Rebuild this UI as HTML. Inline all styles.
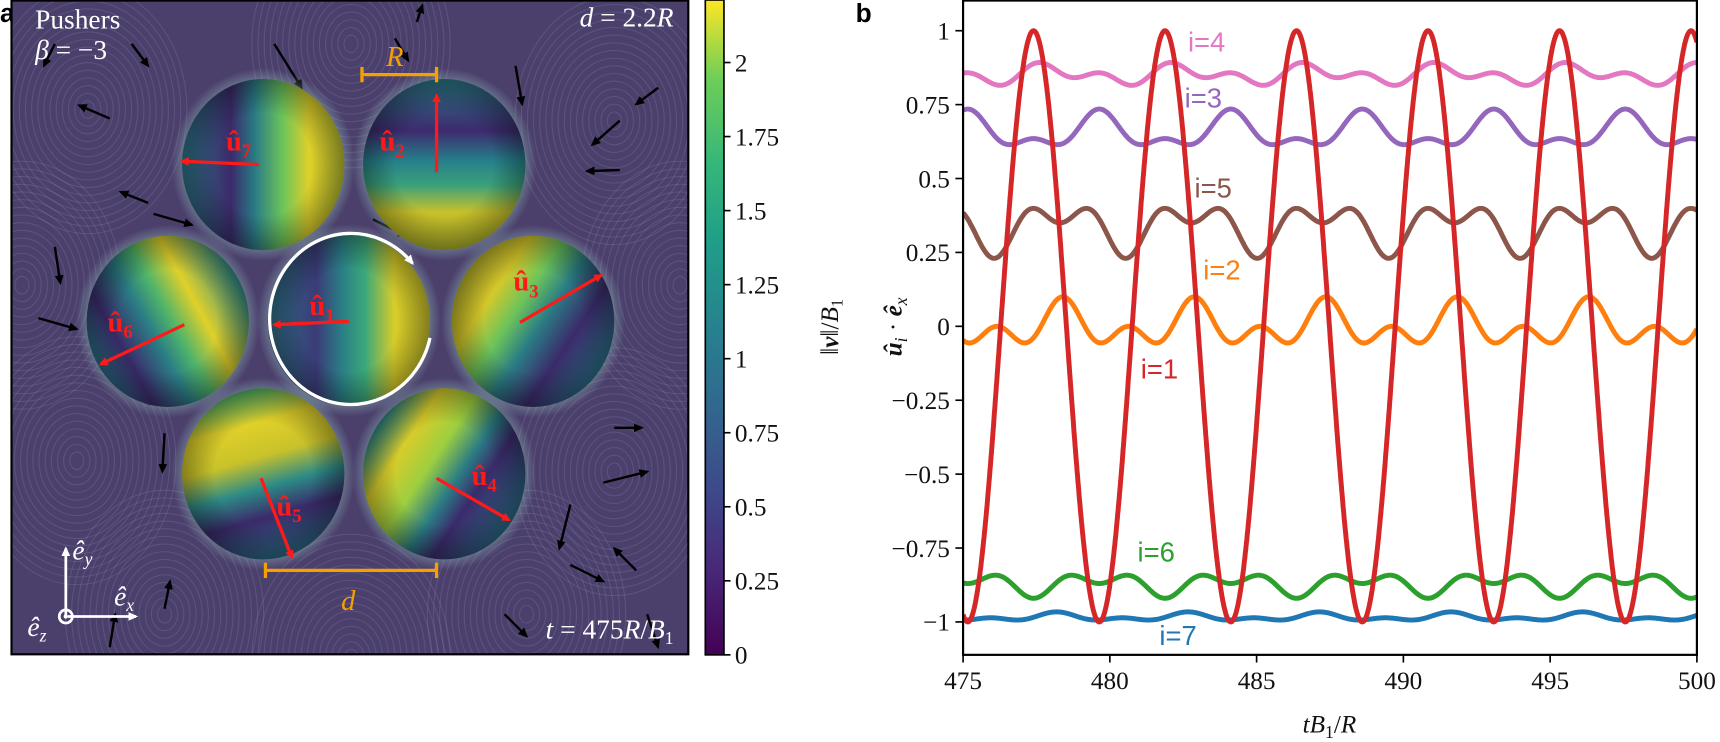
<!DOCTYPE html>
<html><head><meta charset="utf-8"><style>
html,body{margin:0;padding:0;background:#fff;width:1720px;height:742px;overflow:hidden}
svg{display:block}
.tk{font-family:"Liberation Serif",serif;font-size:23px;fill:#111}
.sl{font-family:"Liberation Sans","DejaVu Sans",sans-serif;font-size:25px}
.wt{font-family:"Liberation Serif",serif;font-size:25px;fill:#fff}
.rl{font-family:"Liberation Serif",serif;font-size:26px;fill:#ff1a1a;font-weight:bold}
</style></head><body>
<svg id="s" width="1720" height="742" viewBox="0 0 1720 742" xmlns="http://www.w3.org/2000/svg">
<defs>
<linearGradient id="vir" x1="0" y1="1" x2="0" y2="0">
<stop offset="0" stop-color="#440154"/><stop offset="0.13" stop-color="#482878"/><stop offset="0.25" stop-color="#3e4989"/><stop offset="0.38" stop-color="#31688e"/><stop offset="0.5" stop-color="#26828e"/><stop offset="0.63" stop-color="#1f9e89"/><stop offset="0.75" stop-color="#35b779"/><stop offset="0.88" stop-color="#6ece58"/><stop offset="1" stop-color="#fde725"/>
</linearGradient>
<radialGradient id="shade" cx="0.5" cy="0.5" r="0.5">
<stop offset="0.6" stop-color="#000" stop-opacity="0"/><stop offset="1" stop-color="#000" stop-opacity="0.35"/>
</radialGradient>
<radialGradient id="glow" cx="0.5" cy="0.5" r="0.5">
<stop offset="0.8" stop-color="#9fd8c8" stop-opacity="0.5"/><stop offset="1" stop-color="#9fd8c8" stop-opacity="0"/>
</radialGradient>
<linearGradient id="g1" x1="0" y1="0" x2="1" y2="0">
<stop offset="0" stop-color="#2c6f84"/><stop offset="0.3" stop-color="#3b3b78"/><stop offset="0.45" stop-color="#2a7c85"/><stop offset="0.6" stop-color="#3aa87a"/><stop offset="0.78" stop-color="#d8cc2a"/><stop offset="1" stop-color="#c9c22a"/>
</linearGradient>
<linearGradient id="g7" x1="0" y1="0" x2="1" y2="0">
<stop offset="0" stop-color="#2e7688"/><stop offset="0.3" stop-color="#3b2a6a"/><stop offset="0.45" stop-color="#2a7c85"/><stop offset="0.62" stop-color="#6cc45a"/><stop offset="0.78" stop-color="#ddd02a"/><stop offset="1" stop-color="#b8bc30"/>
</linearGradient>
<linearGradient id="g2" x1="0" y1="0" x2="0" y2="1">
<stop offset="0" stop-color="#2b7a88"/><stop offset="0.3" stop-color="#3d2a6e"/><stop offset="0.48" stop-color="#26808a"/><stop offset="0.62" stop-color="#3aa07a"/><stop offset="0.78" stop-color="#c9c12a"/><stop offset="1" stop-color="#a8ad2a"/>
</linearGradient>
<linearGradient id="g6" x1="0" y1="0" x2="1" y2="0" gradientTransform="rotate(-30 .5 .5)">
<stop offset="0" stop-color="#2a6f86"/><stop offset="0.18" stop-color="#3b2a6a"/><stop offset="0.38" stop-color="#2a7c85"/><stop offset="0.52" stop-color="#4fb46a"/><stop offset="0.7" stop-color="#e0d02a"/><stop offset="1" stop-color="#2e8a86"/>
</linearGradient>
<linearGradient id="g3" x1="1" y1="0" x2="0" y2="0" gradientTransform="rotate(35 .5 .5)">
<stop offset="0" stop-color="#2a6f86"/><stop offset="0.25" stop-color="#3b2a6a"/><stop offset="0.45" stop-color="#2a7c85"/><stop offset="0.62" stop-color="#6cc45a"/><stop offset="0.8" stop-color="#d6c82a"/><stop offset="1" stop-color="#b8b22a"/>
</linearGradient>
<linearGradient id="g5" x1="0" y1="0" x2="0" y2="1" gradientTransform="rotate(-15 .5 .5)">
<stop offset="0" stop-color="#4fb46a"/><stop offset="0.2" stop-color="#e0d02a"/><stop offset="0.4" stop-color="#c8c22a"/><stop offset="0.58" stop-color="#2c8a86"/><stop offset="0.75" stop-color="#3b2a6a"/><stop offset="1" stop-color="#2a6a84"/>
</linearGradient>
<linearGradient id="g4" x1="0" y1="0" x2="1" y2="0" gradientTransform="rotate(35 .5 .5)">
<stop offset="0" stop-color="#2c8a86"/><stop offset="0.2" stop-color="#d8cc2a"/><stop offset="0.4" stop-color="#9ccf40"/><stop offset="0.58" stop-color="#2a7c85"/><stop offset="0.72" stop-color="#3b2a6a"/><stop offset="1" stop-color="#2a6a84"/>
</linearGradient>
<marker id="ar" markerWidth="8" markerHeight="8" refX="6" refY="4" orient="auto" markerUnits="userSpaceOnUse"><path d="M0,0 L8,4 L0,8 z" fill="#ff1a1a"/></marker>
<marker id="ak" markerWidth="9" markerHeight="8" refX="7" refY="4" orient="auto" markerUnits="userSpaceOnUse"><path d="M0,0 L9,4 L0,8 z" fill="#000"/></marker>
<marker id="aw" markerWidth="9" markerHeight="8" refX="7" refY="4" orient="auto" markerUnits="userSpaceOnUse"><path d="M0,0 L9,4 L0,8 z" fill="#fff"/></marker>
<clipPath id="pa"><rect x="11" y="0" width="616" height="596"/></clipPath>
<clipPath id="pb"><rect x="878" y="0" width="669" height="597"/></clipPath>
</defs>
<g transform="scale(1.0969)">
<text x="0" y="20" font-family="Liberation Sans,sans-serif" font-weight="bold" font-size="24" fill="#000">a</text>
<g clip-path="url(#pa)">
<rect x="11" y="0" width="616" height="596" fill="#4b3f6c"/>
<g id="stream" stroke="#8f8ab0" stroke-opacity="0.25" fill="none" stroke-width="1"></g>
<g id="blk" stroke="#000" stroke-width="2.2"></g>
<g>
<ellipse cx="318" cy="292" rx="84" ry="88" fill="url(#glow)"/>
<ellipse cx="240" cy="150" rx="84" ry="88" fill="url(#glow)"/>
<ellipse cx="405" cy="150" rx="84" ry="88" fill="url(#glow)"/>
<ellipse cx="153" cy="293" rx="84" ry="88" fill="url(#glow)"/>
<ellipse cx="486" cy="293" rx="84" ry="88" fill="url(#glow)"/>
<ellipse cx="240" cy="432" rx="84" ry="88" fill="url(#glow)"/>
<ellipse cx="405" cy="432" rx="84" ry="88" fill="url(#glow)"/>
<ellipse cx="318" cy="292" rx="74" ry="78" fill="url(#g1)"/>
<ellipse cx="240" cy="150" rx="74" ry="78" fill="url(#g7)"/>
<ellipse cx="405" cy="150" rx="74" ry="78" fill="url(#g2)"/>
<ellipse cx="153" cy="293" rx="74" ry="78" fill="url(#g6)"/>
<ellipse cx="486" cy="293" rx="74" ry="78" fill="url(#g3)"/>
<ellipse cx="240" cy="432" rx="74" ry="78" fill="url(#g5)"/>
<ellipse cx="405" cy="432" rx="74" ry="78" fill="url(#g4)"/>
<g fill="url(#shade)">
<ellipse cx="318" cy="292" rx="74" ry="78"/><ellipse cx="240" cy="150" rx="74" ry="78"/><ellipse cx="405" cy="150" rx="74" ry="78"/><ellipse cx="153" cy="293" rx="74" ry="78"/><ellipse cx="486" cy="293" rx="74" ry="78"/><ellipse cx="240" cy="432" rx="74" ry="78"/><ellipse cx="405" cy="432" rx="74" ry="78"/>
</g>
</g>
<path d="M392,308 A74,78 0 1 1 376,240" fill="none" stroke="#fff" stroke-width="3" marker-end="url(#aw)"/>
<g stroke="#ff1a1a" stroke-width="3" marker-end="url(#ar)">
<line x1="318" y1="293" x2="250" y2="296"/>
<line x1="398" y1="157" x2="398" y2="87"/>
<line x1="236" y1="150" x2="166" y2="147"/>
<line x1="168" y1="296" x2="92" y2="332"/>
<line x1="474" y1="294" x2="548" y2="251"/>
<line x1="238" y1="436" x2="266" y2="508"/>
<line x1="398" y1="436" x2="464" y2="474"/>
</g>
<g class="rl">
<text x="282" y="287">û<tspan font-size="17" dy="6">1</tspan></text>
<text x="346" y="137">û<tspan font-size="17" dy="6">2</tspan></text>
<text x="468" y="265">û<tspan font-size="17" dy="6">3</tspan></text>
<text x="430" y="442">û<tspan font-size="17" dy="6">4</tspan></text>
<text x="252" y="470">û<tspan font-size="17" dy="6">5</tspan></text>
<text x="98" y="302">û<tspan font-size="17" dy="6">6</tspan></text>
<text x="206" y="137">û<tspan font-size="17" dy="6">7</tspan></text>
</g>
<g stroke="#f5a000" stroke-width="3">
<line x1="330" y1="68" x2="398" y2="68"/><line x1="330" y1="61" x2="330" y2="75"/><line x1="398" y1="61" x2="398" y2="75"/>
<line x1="242" y1="520" x2="398" y2="520"/><line x1="242" y1="513" x2="242" y2="527"/><line x1="398" y1="513" x2="398" y2="527"/>
</g>
<text x="352" y="60" font-family="Liberation Serif,serif" font-style="italic" font-size="26" fill="#f5a000">R</text>
<text x="311" y="556" font-family="Liberation Serif,serif" font-style="italic" font-size="26" fill="#f5a000">d</text>
<text class="wt" x="32" y="26">Pushers</text>
<text class="wt" x="32" y="54"><tspan font-style="italic">β</tspan> = −3</text>
<text class="wt" x="614" y="24" text-anchor="end"><tspan font-style="italic">d</tspan> = 2.2<tspan font-style="italic">R</tspan></text>
<text class="wt" x="614" y="582" text-anchor="end"><tspan font-style="italic">t</tspan> = 475<tspan font-style="italic">R</tspan>/<tspan font-style="italic">B</tspan><tspan font-size="16" dy="5">1</tspan></text>
<g stroke="#fff" stroke-width="2.5" fill="none">
<line x1="60" y1="562" x2="60" y2="500" marker-end="url(#aw)"/>
<line x1="62" y1="562" x2="124" y2="562" marker-end="url(#aw)"/>
<circle cx="60" cy="562" r="6"/>
</g>
<circle cx="60" cy="562" r="2" fill="#fff"/>
<text class="wt" x="66" y="510" font-style="italic">ê<tspan font-size="16" dy="5">y</tspan></text>
<text class="wt" x="104" y="552" font-style="italic">ê<tspan font-size="16" dy="5">x</tspan></text>
<text class="wt" x="25" y="580" font-style="italic">ê<tspan font-size="16" dy="5">z</tspan></text>
</g>
<rect x="10.5" y="0.5" width="617" height="596" fill="none" stroke="#000" stroke-width="2"/>

<rect x="643" y="0" width="17" height="597" fill="url(#vir)" stroke="#000" stroke-width="1.5"/>
<g id="cb"></g>
<text class="tk" transform="translate(764,298) rotate(-90)" text-anchor="middle">‖<tspan font-weight="bold" font-style="italic">v</tspan>‖/<tspan font-style="italic">B</tspan><tspan font-size="15" dy="4">1</tspan></text>

<text x="780" y="20" font-family="Liberation Sans,sans-serif" font-weight="bold" font-size="24" fill="#000">b</text>
<g id="plot" clip-path="url(#pb)" fill="none" stroke-linejoin="round"></g>
<rect x="878" y="0.5" width="669" height="596.5" fill="none" stroke="#000" stroke-width="2"/>
<g id="ax"></g>
<text class="tk" transform="translate(822,298) rotate(-90)" text-anchor="middle" font-size="25"><tspan font-weight="bold" font-style="italic">û</tspan><tspan font-size="16" dy="5" font-style="italic">i</tspan><tspan dy="-5"> · </tspan><tspan font-weight="bold" font-style="italic">ê</tspan><tspan font-size="16" dy="5" font-style="italic">x</tspan></text>
<text class="tk" x="1212" y="668" text-anchor="middle" font-size="25"><tspan font-style="italic">tB</tspan><tspan font-size="16" dy="5">1</tspan><tspan dy="-5">/</tspan><tspan font-style="italic">R</tspan></text>
<g class="sl">
<text x="1083" y="47" fill="#e377c2">i=4</text>
<text x="1080" y="98" fill="#9467bd">i=3</text>
<text x="1089" y="180" fill="#8c564b">i=5</text>
<text x="1097" y="255" fill="#ff7f0e">i=2</text>
<text x="1040" y="345" fill="#d62728">i=1</text>
<text x="1037" y="512" fill="#2ca02c">i=6</text>
<text x="1057" y="588" fill="#1f77b4">i=7</text>
</g>
</g>
</svg>
<script>
var NS="http://www.w3.org/2000/svg";
function el(p,t,a,txt){var e=document.createElementNS(NS,t);for(var k in a)e.setAttribute(k,a[k]);if(txt!=null)e.textContent=txt;p.appendChild(e);return e;}
var X=function(t){return 878+(t-475)*26.76;}, Y=function(v){return 297.5-v*269.5;};
var ax=document.getElementById('ax');
[1,0.75,0.5,0.25,0,-0.25,-0.5,-0.75,-1].forEach(function(v){var y=Y(v);el(ax,'line',{x1:871,x2:878,y1:y,y2:y,stroke:'#000','stroke-width':1.5});
var s=(v<0?'\u2212':'')+String(Math.abs(v));el(ax,'text',{x:866,y:y+8,'text-anchor':'end','class':'tk'},s);});
[475,480,485,490,495,500].forEach(function(t){var x=X(t);el(ax,'line',{x1:x,x2:x,y1:597,y2:604,stroke:'#000','stroke-width':1.5});el(ax,'text',{x:x,y:628,'text-anchor':'middle','class':'tk'},t);});
var cb=document.getElementById('cb');
[0,0.25,0.5,0.75,1,1.25,1.5,1.75,2].forEach(function(v){var y=597-v*270;el(cb,'line',{x1:660,x2:666,y1:y,y2:y,stroke:'#000','stroke-width':1.5});el(cb,'text',{x:670,y:y+8,'class':'tk'},v);});
var P=4.48;
function ph(t){return 2*Math.PI*(t-477.4)/P;}
var C=Math.cos;
var series=[
['#e377c2',function(f){return 0.852+0.022*C(f-0.8)+0.022*C(2*f-0.3);}],
['#9467bd',function(f){return 0.655-0.05*C(f)+0.03*C(2*f);}],
['#8c564b',function(f){return 0.34+0.06*C(f-1.26)+0.05*C(2*f+0.62);}],
['#ff7f0e',function(f){return 0.05*C(f-1.4)+0.05*C(2*f-2.8);}],
['#2ca02c',function(f){return -0.87-0.025*C(f)-0.025*C(2*f);}],
['#1f77b4',function(f){return -0.984+0.01*C(f-1.1)+0.008*C(2*f-2.2);}],
['#d62728',function(f){return C(f);}]];
var plot=document.getElementById('plot');
series.forEach(function(s){var d='';for(var i=0;i<=1500;i++){var t=475+25*i/1500;d+=(i?'L':'M')+X(t).toFixed(1)+','+Y(s[1](ph(t))).toFixed(1);}
el(plot,'path',{d:d,stroke:s[0],'stroke-width':4.5});});
var st=document.getElementById('stream');
var cs=[[80,100],[560,110],[70,420],[560,430],[320,40],[150,560],[480,560],[320,600],[20,260],[620,260]];
cs.forEach(function(c){for(var r=8;r<120;r+=7)el(st,'ellipse',{cx:c[0],cy:c[1],rx:r*0.8,ry:r});});
var bk=document.getElementById('blk');
[[50,40,40,60],[120,40,135,60],[250,40,275,80],[360,35,372,55],[380,20,385,5],[470,60,476,95],[600,80,580,95],[100,108,72,96],[565,110,540,132],[565,155,535,156],[135,185,110,175],[155,240,130,230],[50,225,55,258],[35,290,70,300],[560,390,585,390],[550,440,590,430],[140,195,175,205],[178,240,200,250],[340,200,370,215],[160,365,130,366],[150,395,148,430],[300,400,305,430],[520,460,510,500],[520,515,550,530],[580,520,560,500],[100,590,105,560],[150,555,155,530],[460,560,480,580],[590,560,600,590],[200,285,215,320]].forEach(function(a){el(bk,'line',{x1:a[0],y1:a[1],x2:a[2],y2:a[3],'marker-end':'url(#ak)'});});
</script>
</body></html>
